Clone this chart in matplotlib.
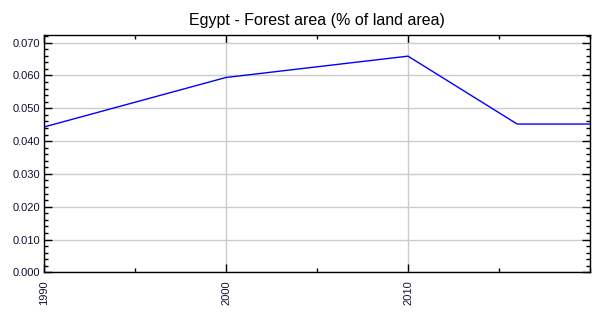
import matplotlib
matplotlib.use("Agg")
import matplotlib.pyplot as plt
from matplotlib.ticker import MultipleLocator, FixedLocator, FormatStrFormatter

# Egypt forest area, % of land area
years = [1990, 2000, 2010, 2016, 2020]
forest_pct = [0.0443, 0.0594, 0.0659, 0.0452, 0.0452]
year_ticks = [1990, 2000, 2010]

plt.rcParams['font.family'] = ['Liberation Sans', 'DejaVu Sans']

fig = plt.figure(figsize=(6.0, 3.15), dpi=100)
ax = fig.add_axes([44 / 600, 1 - 272.3 / 315, (590 - 44) / 600, (272.3 - 34.5) / 315])

ax.plot(years, forest_pct, color='#0000ff', linewidth=1.0)

ax.set_xlim(1990, 2020)
ax.set_ylim(0, 0.0725)

ax.xaxis.set_major_locator(FixedLocator(year_ticks))
ax.xaxis.set_minor_locator(MultipleLocator(5))
ax.yaxis.set_major_locator(MultipleLocator(0.01))
ax.yaxis.set_minor_locator(MultipleLocator(0.002))
ax.yaxis.set_major_formatter(FormatStrFormatter('%.3f'))

ax.grid(True, which='major', color='#cccccc', linewidth=1.0)
ax.set_axisbelow(True)

ax.tick_params(which='both', direction='in', top=True, right=True,
               labelsize=8, labelcolor='#111133', width=1.0)
ax.tick_params(which='major', length=6)
ax.tick_params(which='minor', length=3)
ax.tick_params(axis='x', labelrotation=90, pad=6)
ax.tick_params(axis='y', pad=3)

for s in ax.spines.values():
    s.set_linewidth(1.0)

ax.set_title("Egypt - Forest area (% of land area)", fontsize=11.5, pad=7)

fig.savefig("out.png", dpi=100)
